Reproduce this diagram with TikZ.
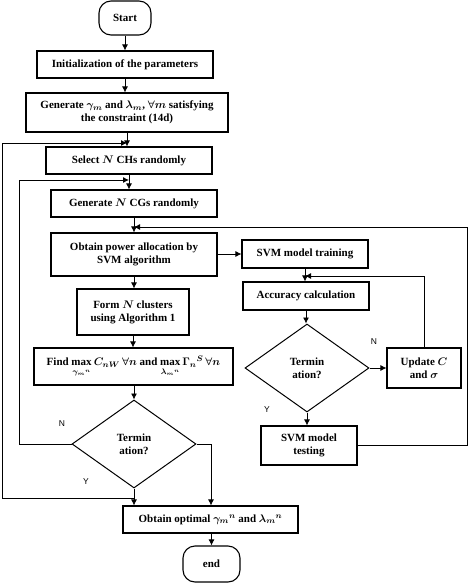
\documentclass[tikz,border=0pt]{standalone}
\usepackage{fontspec}
\setmainfont{Liberation Serif}
\newfontfamily\lblfont{Liberation Sans}
\usetikzlibrary{shapes.geometric,arrows.meta}

\begin{document}
\begin{tikzpicture}[x=1pt, y=-1pt,
    box/.style = {draw, line width=1.1pt, align=center, inner sep=1pt,
                  font=\bfseries\boldmath\fontsize{11}{13}\selectfont},
    term/.style = {box, rounded corners=12pt},
    decide/.style = {box, diamond, line width=1pt, minimum width=124pt, minimum height=88pt, inner sep=0pt},
    lbl/.style = {font=\lblfont\fontsize{8.5}{10}\selectfont},
    every path/.style = {line width=0.8pt},
    >={Latex[length=6pt,width=6pt]}]
            \useasboundingbox (0,0) rectangle (474,583);
            \node[term, minimum width=52pt, minimum height=34pt] (start) at (125,18) {Start};
            \node[box, minimum width=176pt, minimum height=27pt] (init) at (125,64.5) {Initialization of the parameters};
            \node[box, minimum width=202pt, minimum height=39pt] (gen) at (127,112.5)
                {Generate $\gamma_m$ and $\lambda_m$, $\forall m$ satisfying\\the constraint (14d)};
            \node[box, minimum width=166pt, minimum height=27pt] (sel) at (129,160.5) {Select $N$ CHs randomly};
            \node[box, minimum width=166pt, minimum height=27pt] (cgs) at (134,203.5) {Generate $N$ CGs randomly};
            \node[box, minimum width=166pt, minimum height=43pt] (pow) at (134,254.5)
                {Obtain power allocation by\\SVM algorithm};
            \node[box, minimum width=112pt, minimum height=46pt] (clu) at (133,312) {Form $N$ clusters\\using Algorithm 1};
            \node[box, minimum width=199pt, minimum height=37pt] (fnd) at (133.5,366.5)
                {Find $\max\limits_{\rule{0pt}{7pt}\gamma_m{}^n} C_{nW}\,\forall n$ and $\max\limits_{\rule{0pt}{7pt}\lambda_m{}^n}\Gamma_n{}^S\,\forall n$};
            \node[decide] (dec) at (134,444) {Termin\\ation?};
            \node[box, minimum width=175pt, minimum height=27pt] (opt) at (210.5,519.5)
                {Obtain optimal $\gamma_m{}^n$ and $\lambda_m{}^n$};
            \node[term, minimum width=57pt, minimum height=36pt] (fin) at (211.5,564) {end};
            \node[box, minimum width=126pt, minimum height=28pt] (trn) at (305,254) {SVM model training};
            \node[box, minimum width=126pt, minimum height=28pt] (acc) at (306,296) {Accuracy calculation};
            \node[decide] (svd) at (307,368) {Termin\\ation?};
            \node[box, minimum width=74pt, minimum height=40pt] (upd) at (424,368) {Update $C$\\and $\sigma$};
            \node[box, minimum width=96pt, minimum height=39pt] (tst) at (309,445.5) {SVM model\\testing};
            \node[lbl] (n1) at (62,424) {N};
            \node[lbl] (y1) at (86,482) {Y};
            \node[lbl] (n2) at (374,342) {N};
            \node[lbl] (y2) at (267,410) {Y};
            \coordinate (yj) at (134,498);
            \coordinate (yl) at (2,498);
            \coordinate (yt) at (2,143);
            \coordinate (nl) at (19,180);
            \coordinate (rt) at (467,227);
            \coordinate (ut) at (424,276);
            \draw[->] (start) -- (start.south |- init.north);
            \draw[->] (init) -- (init.south |- gen.north);
            \draw[->] (gen) -- (gen.south |- sel.north);
            \draw[->] (sel) -- (sel.south |- cgs.north);
            \draw[->] (cgs) -- (cgs.south |- pow.north);
            \draw[->] (pow) -- (pow.south |- clu.north);
            \draw[->] (clu) -- (clu.south |- fnd.north);
            \draw[->] (fnd) -- (fnd.south -| dec.north) -- (dec.north);
            \draw[->] (dec.south) -- (dec.south |- opt.north);
            \draw[->] (dec.east) -| (opt.north -| 211,0);
            \draw[->] (opt.south -| fin.north) -- (fin.north);
            \draw[->] (yj) -- (yl) -- (yt) -- (gen.south |- yt);
            \draw[->] (dec.west) -| (nl) -- (sel.south |- nl);
            \draw[->] (pow.east |- trn.west) -- (trn.west);
            \draw[->] (trn.south) -- (trn.south |- acc.north);
            \draw[->] (acc.south) -- (acc.south |- svd.north);
            \draw[->] (svd.east) -- (upd.west);
            \draw[->] (svd.south) -- (svd.south |- tst.north);
            \draw[->] (upd.north) -- (ut) -- (trn.south |- ut);
            \draw[->] (tst.east) -| (rt) -- (cgs.south |- rt);
    \end{tikzpicture}
\end{document}
